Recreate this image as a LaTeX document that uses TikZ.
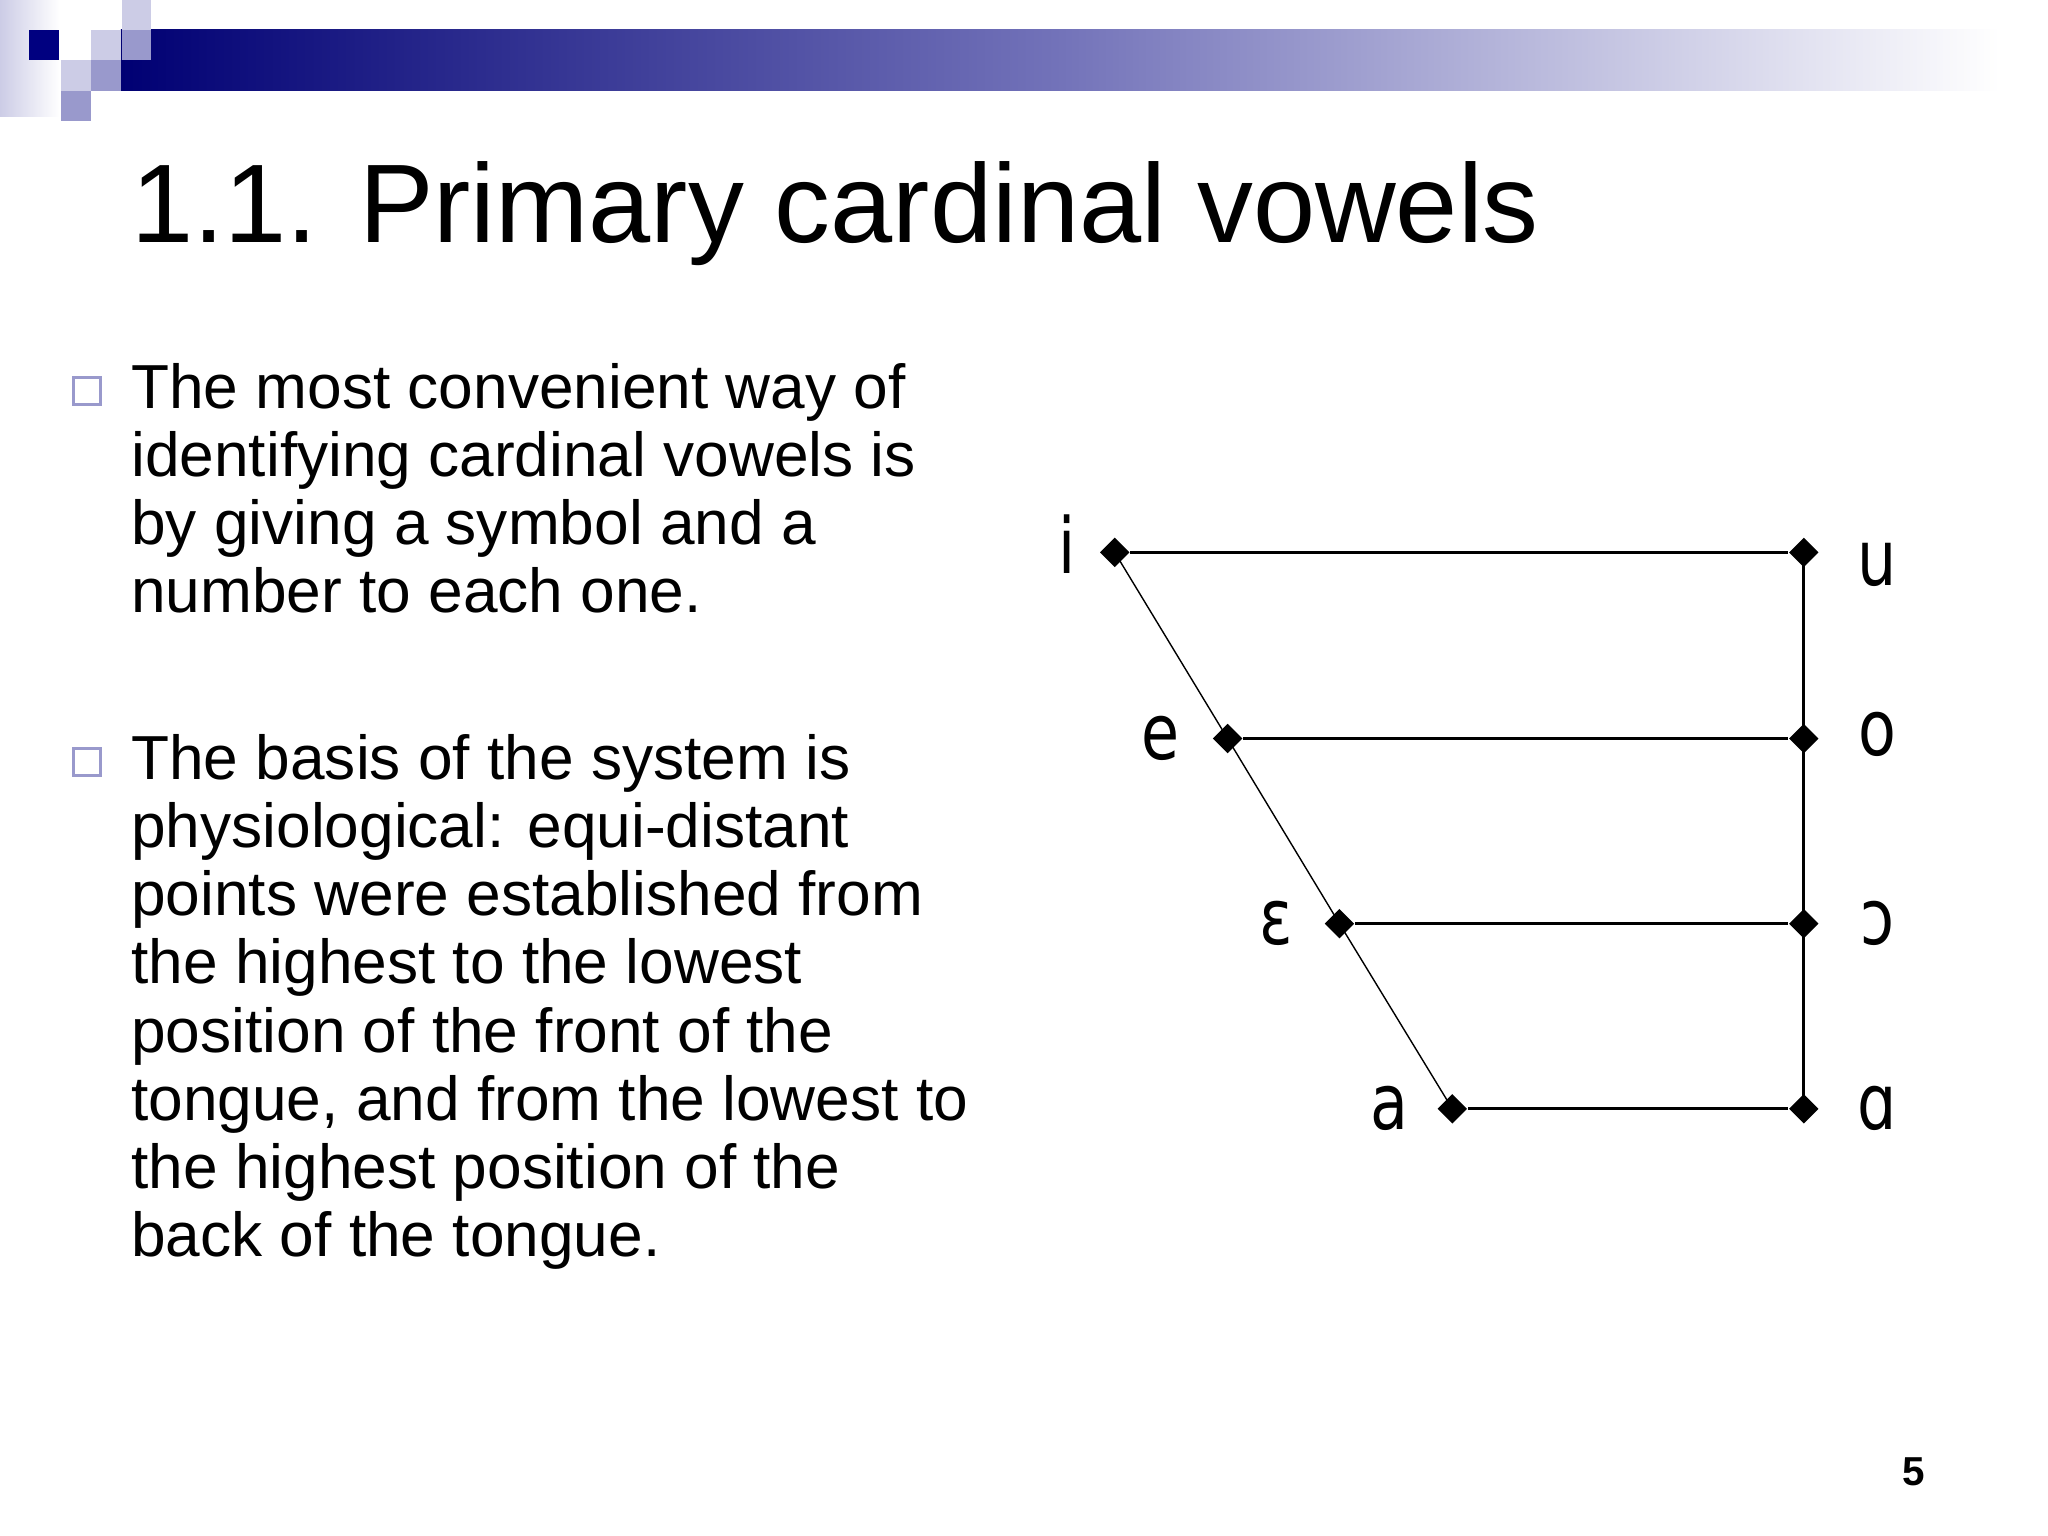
\documentclass[tikz,border=0pt]{standalone}
\usepackage{fontspec}
\setmainfont{Liberation Sans}
\newfontfamily\ipafont{DejaVu Sans}
\usetikzlibrary{shapes.geometric}
\definecolor{navy}{RGB}{0,0,128}
\definecolor{lightsq}{RGB}{204,204,230}
\definecolor{medsq}{RGB}{153,153,204}
\tikzset{
  dot/.style={diamond,fill=black,inner sep=0pt,minimum size=0.3cm},
  lab/.style={font=\ipafont\fontsize{22}{22}\selectfont,inner sep=0pt,xscale=0.8},
  body/.style={anchor=north west,inner sep=0pt,align=left,font=\fontsize{17.7}{19.4}\selectfont},
  bullet/.style={draw=medsq,line width=0.8pt,minimum size=0.27cm,inner sep=0pt}
}
\begin{document}
\begin{tikzpicture}[x=0.0099cm,y=-0.0099cm]
\useasboundingbox (0,0) rectangle (2068.7,1551.5);
\fill[white] (0,0) rectangle (2068.7,1551.5);
% header decoration
\shade[left color=lightsq,right color=white] (0,0) rectangle (60,118);
\shade[left color=navy!90!black,right color=white,middle color=navy!55] (122,30) rectangle (2020,91);
\fill[navy] (29,30) rectangle (60,61);
\fill[lightsq] (123,0) rectangle (153,30);
\fill[lightsq] (92,30) rectangle (122,61);
\fill[medsq] (123,30) rectangle (153,61);
\fill[lightsq] (62,61) rectangle (92,92);
\fill[medsq] (92,61) rectangle (122,92);
\fill[medsq] (62,92) rectangle (92,122);
% title
\node[anchor=base west,inner sep=0pt,font=\fontsize{31.8}{34}\selectfont] (title) at (132,245) {1.1. Primary cardinal vowels};
% bullets
\node[bullet] (b1) at (88,395) {};
\node[body] (t1) at (132,366) {The most convenient way of\\identifying cardinal vowels is\\by giving a symbol and a\\number to each one.};
\node[bullet] (b2) at (88,770) {};
\node[body] (t2) at (132,741) {The basis of the system is\\physiological: equi-distant\\points were established from\\the highest to the lowest\\position of the front of the\\tongue, and from the lowest to\\the highest position of the\\back of the tongue.};
% chart
\node[dot] (i) at (1126,558) {};
\node[dot] (e) at (1240,746) {};
\node[dot] (E) at (1353,933) {};
\node[dot] (a) at (1467,1120) {};
\node[dot] (u) at (1822,558) {};
\node[dot] (o) at (1822,746) {};
\node[dot] (O) at (1822,933) {};
\node[dot] (A) at (1822,1120) {};
\draw[line width=0.4pt] (i.center) -- (e.center) -- (E.center) -- (a.center);
\draw[line width=0.9pt] (i) -- (u) (e) -- (o) (E) -- (O) (a) -- (A);
\draw[line width=0.9pt] (u.center) -- (A.center);
\node[lab] (li) at (1078,550) {i};
\node[lab] (le) at (1172,746) {e};
\node[lab] (lE) at (1289,933) {ɛ};
\node[lab] (la) at (1403,1120) {a};
\node[lab] (lu) at (1896,570) {u};
\node[lab] (lo) at (1896,742) {o};
\node[lab] (lO) at (1896,933) {ɔ};
\node[lab] (lA) at (1896,1120) {ɑ};
% page number
\node[font=\bfseries\fontsize{11.5}{12}\selectfont,inner sep=0pt] (pg) at (1933,1487) {5};
\end{tikzpicture}
\end{document}
